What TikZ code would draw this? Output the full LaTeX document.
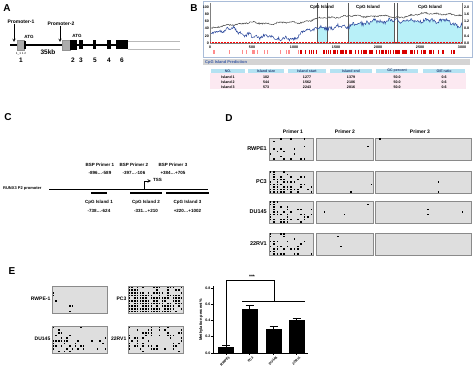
\documentclass[tikz,border=0pt]{standalone}
\usepackage{fontspec}
\setmainfont{Liberation Sans}
\usetikzlibrary{arrows}
\definecolor{headblue}{HTML}{B4E2F2}
\definecolor{rowpink}{HTML}{FCE9F1}
\definecolor{predgray}{HTML}{D4D4D4}
\definecolor{predtext}{HTML}{3B5BA5}
\definecolor{chartedge}{HTML}{A9BCD8}
\definecolor{islandfill}{HTML}{B8F0F8}
\definecolor{oeblue}{HTML}{2E4A9E}
\definecolor{gcgray}{HTML}{505050}
\definecolor{boxfill}{HTML}{DEDEDE}
\definecolor{boxedge}{HTML}{8A8A8A}
\tikzstyle{panel label}=[font=\fontsize{10}{10}\selectfont\bfseries, inner sep=0pt]
\tikzstyle{small text}=[font=\fontsize{5}{6}\selectfont\bfseries, inner sep=0pt]
\tikzstyle{tiny text}=[font=\fontsize{3.6}{4}\selectfont\bfseries, inner sep=0pt]
\tikzstyle{cell label}=[font=\fontsize{5.5}{6}\selectfont\bfseries, inner sep=0pt, anchor=east]
\tikzstyle{utr exon}=[fill=gray!65, draw=gray!85, line width=0.3pt]
\tikzstyle{gene line}=[draw, line width=1.1pt]
\tikzstyle{meth box}=[draw=boxedge, fill=boxfill, line width=0.5pt]
\tikzstyle{island bar}=[draw, line width=1.8pt]
\tikzstyle{edge}=[draw, line width=0.5pt]
% methylation grid: x, y, width, height, columns, rows, density, bias
\newcommand{\methgrid}[8]{%
  \path[meth box] (#1,#2) rectangle ++(#3,#4);
  \pgfmathsetmacro\dx{#3/#5}
  \pgfmathsetmacro\dy{#4/#6}
  \pgfmathsetmacro\ds{0.62*min(\dx,\dy)}
  \foreach \i in {1,...,#5}
    \foreach \j in {1,...,#6} {
      \pgfmathtruncatemacro\hit{100*rnd-#8*(\j/#6-0.5)+#8*(\i/#5-0.5)}
      \ifnum\hit<#7 \fill (#1+\i*\dx-0.5*\dx-0.5*\ds,#2+\j*\dy-0.5*\dy-0.5*\ds) rectangle ++(\ds,\ds); \fi
    }%
}
\begin{document}
\begin{tikzpicture}[x=1pt, y=-1pt,
  declare function={gbump(\t)=exp(-min(9,\t*\t)); lstep(\t)=1/(1+exp(-max(-9,min(9,\t))));
    gcv(\t)=40+15*(1-gbump(\t/200))+20*lstep((\t-1250)/120)+8*gbump((\t-2650)/200)-4*gbump((\t-2200)/100)+2*sin(0.9*\t)+1.5*sin(2.3*\t)+4*(rnd-0.5);
    oev(\t)=10+30*gbump((\t-220)/220)+8*gbump((\t-650)/150)+30*lstep((\t-1080)/40)+22*lstep((\t-1700)/120)-15*gbump((\t-3000)/120)+3*sin(1.7*\t)+2.5*sin(4.1*\t)+9*(rnd-0.5);}]
    \useasboundingbox[fill=white] (0,0) rectangle (474,374);
    \pgfmathsetseed{42}

    % Panel A: gene structure
    \node[panel label] (A) at (7,8) {A};
    \node[small text] (prom1) at (21,22) {Promoter-1};
    \node[small text] (prom2) at (61,24) {Promoter-2};
    \coordinate (p1tip) at (14,42);
    \coordinate (p2tip) at (60,42);
    \draw[-stealth, line width=0.5pt] (prom1.south -| p1tip) -- (p1tip);
    \draw[-stealth, line width=0.5pt] (prom2.south -| p2tip) -- (p2tip);
    \path[gene line] (10,45) -- (128,45);
    \draw[gray!55, line width=0.6pt] (128,41.5) -- (180,41.5) (128,49.5) -- (180,49.5);
    \path[utr exon] (17,40) rectangle (24,50);
    \fill (24,41) rectangle (26,49);
    \path[utr exon] (62,40) rectangle (70,50);
    \fill (70,40) rectangle (77,50);
    \foreach \xa/\xb in {79/83, 93/96, 107/111, 116/128}
        \fill (\xa,40.5) rectangle (\xb,49.5);
    \node[tiny text, font=\fontsize{4.5}{5}\selectfont\bfseries] (atg1) at (29,37) {ATG};
    \node[tiny text, font=\fontsize{4.5}{5}\selectfont\bfseries] (atg2) at (77,36) {ATG};
    \node[tiny text, font=\fontsize{3}{3}\selectfont] (sub1) at (21,53.5) {1\_1 1 2};
    \node[small text, font=\fontsize{6.5}{7}\selectfont\bfseries] (kb) at (48,52) {35kb};
    \foreach \x/\n in {21/1, 73/2, 81/3, 95/5, 109/4, 122/6}
        \node[small text, font=\fontsize{6.5}{7}\selectfont\bfseries] (ex\n) at (\x,60) {\n};

    % Panel B: CpG island plot
    \node[panel label] (B) at (194,8) {B};
    \path[draw=chartedge, line width=0.8pt] (203,1) rectangle (472,57);
    \begin{scope}
        \clip (317,3) rectangle (327,43) (348,3) rectangle (394,43) (397,3) rectangle (462,43);
        \pgfmathsetseed{11}
        \fill[islandfill] plot[domain=0:3000, samples=401] ({210+0.084*\x},{43-0.36*oev(\x)}) -- (462,43) -- (210,43) -- cycle;
    \end{scope}
    \foreach \lx in {317, 327, 348, 394, 397, 462}
        \draw[gray!70!black, line width=0.5pt] (\lx,3) -- (\lx,43);
    \draw[gcgray, line width=0.5pt] plot[domain=0:3000, samples=401] ({210+0.084*\x},{43-0.36*gcv(\x)});
    \pgfmathsetseed{11}
    \draw[oeblue, line width=0.5pt] plot[domain=0:3000, samples=401] ({210+0.084*\x},{43-0.36*oev(\x)});
    \draw[gray, line width=0.4pt] (210,3) -- (210,43) -- (462,43) -- (462,3);
    \draw[red, densely dotted, line width=0.5pt] (210,42.5) -- (462,42.5);
    \foreach \v/\r in {0/0.0, 20/0.4, 40/0.8, 60/1.2, 80/1.6, 100/2.0} {
        \node[tiny text, anchor=east] (gl\v) at (209,43-0.36*\v) {\v};
        \node[tiny text, anchor=west] (gr\v) at (464,43-0.36*\v) {\r};
    }
    \foreach \n in {0,500,...,3000}
        \node[tiny text] (gx\n) at (210+0.084*\n,47) {\n};
    \foreach \ix/\lab in {322/1, 368/2, 430/3}
        \node[tiny text, font=\fontsize{4.5}{5}\selectfont\bfseries] (isl\lab) at (\ix,7) {CpG Island};
    % CpG site marks
    \foreach \k in {1,...,18} {
        \pgfmathsetmacro\tx{212+88*rnd}
        \draw[red!45, line width=0.4pt] (\tx,50) -- (\tx,54);
    }
    \foreach \k in {1,...,95} {
        \pgfmathsetmacro\tx{300+162*rnd}
        \draw[red!85!black, line width=0.4pt] (\tx,50) -- (\tx,54);
    }
    % prediction table
    \path[fill=predgray] (203,59) rectangle (470,65);
    \node[tiny text, font=\fontsize{4}{5}\selectfont\bfseries, text=predtext, anchor=west] (pred) at (205,62) {CpG Island Prediction};
    \path[fill=rowpink] (210,73.5) rectangle (466,89);
    \foreach \cx/\w/\head in {228/34/NO., 266/36/Island size, 307/38/Island start, 351/42/Island end, 397/42/GC percent, 444/42/{O/E ratio}}
        \node[tiny text, fill=headblue, minimum width=\w pt, minimum height=4.5pt, text=predtext!70!black] (h\cx) at (\cx,71) {\head};
    \foreach \r/\y/\sz/\st/\en in {1/77/102/1277/1379, 2/82/544/1562/2106, 3/87/573/2243/2816} {
        \node[tiny text] (no\r) at (228,\y) {Island \r};
        \node[tiny text] (sz\r) at (266,\y) {\sz};
        \node[tiny text] (st\r) at (307,\y) {\st};
        \node[tiny text] (en\r) at (351,\y) {\en};
        \node[tiny text] (gc\r) at (397,\y) {50.0};
        \node[tiny text] (oe\r) at (444,\y) {0.6};
    }

    % Panel C: promoter map
    \node[panel label] (C) at (8,117) {C};
    \node[tiny text, font=\fontsize{4}{5}\selectfont\bfseries, anchor=west] (prom) at (3,189) {RUNX3 P2 promoter};
    \coordinate (lineL) at (49,189);
    \coordinate (lineR) at (208,189);
    \path[edge, line width=0.7pt] (lineL) -- (lineR);
    \coordinate (tss) at (144,189);
    \coordinate (tssend) at (151,181);
    \draw[-stealth, line width=0.6pt] (tss) |- (tssend);
    \node[tiny text, font=\fontsize{4.5}{5}\selectfont\bfseries, anchor=west] (tsslab) at (153,180) {TSS};
    \foreach \px/\n/\range in {100/1/{-896\ldots-589}, 134/2/{-397\ldots-106}, 173/3/{+384\ldots+705}} {
        \node[tiny text, font=\fontsize{4.5}{5}\selectfont\bfseries] (bsp\n) at (\px,165) {BSP Primer \n};
        \node[tiny text, font=\fontsize{4.5}{5}\selectfont\bfseries] (bspr\n) at (\px,173) {\range};
    }
    \foreach \xa/\xb/\n/\range in {91/107/1/{-738\ldots-624}, 130/162/2/{-331\ldots+210}, 166/209/3/{+220\ldots+1002}} {
        \path[island bar] (\xa,193) -- (\xb,193);
        \node[tiny text, font=\fontsize{4.5}{5}\selectfont\bfseries] (cpg\n) at ({(\xa+\xb)/2},202) {CpG Island \n};
        \node[tiny text, font=\fontsize{4.5}{5}\selectfont\bfseries] (cpgr\n) at ({(\xa+\xb)/2},211) {\range};
    }

    % Panel D: bisulfite sequencing per primer
    \node[panel label] (D) at (229,118) {D};
    \foreach \hx/\n in {293/1, 345/2, 420/3}
        \node[small text] (primer\n) at (\hx,132) {Primer \n};
    \foreach \y/\name/\da/\ba/\db/\dc in {138/RWPE1/10/8/2/1, 171/PC3/45/50/3/1, 201/DU145/30/40/1/1, 233/22RV1/25/20/1/1} {
        \node[cell label] (d\name) at (267,\y+11) {\name};
        \methgrid{269}{\y}{44}{22}{13}{9}{\da}{\ba}
        \methgrid{316}{\y}{57}{22}{17}{9}{\db}{0}
        \methgrid{375}{\y}{96}{22}{28}{9}{\dc}{0}
    }

    % Panel E: methylation status and percentage
    \node[panel label] (E) at (12,271) {E};
    \foreach \bx/\by/\name/\dens/\bias in {52/286/RWPE-1/3/0, 128/286/PC3/70/40, 52/326/DU145/25/35, 128/326/22RV1/25/0} {
        \node[cell label, font=\fontsize{5}{6}\selectfont\bfseries] (e\name) at (\bx-1.5,\by+13) {\name};
        \methgrid{\bx}{\by}{55}{27}{20}{10}{\dens}{\bias}
    }
    % bar chart
    \coordinate (origin) at (213,353);
    \coordinate (ytop) at (213,286);
    \coordinate (xend) at (308,353);
    \draw[line width=0.5pt] (ytop) -- (origin) -- (xend);
    \foreach \v/\lab in {0/0.0, 0.2/0.2, 0.4/0.4, 0.6/0.6, 0.8/0.8} {
        \draw[line width=0.5pt] (213,353-81.5*\v) -- (211,353-81.5*\v);
        \node[tiny text, anchor=east] (yt\lab) at (210.5,353-81.5*\v) {\lab};
    }
    \node[tiny text, font=\fontsize{4}{5}\selectfont\bfseries, rotate=90] (ylab) at (201,320) {Methylation percent\%};
    \foreach \xc/\val/\err/\lab in {226/0.07/0.03/RWPE1, 249.5/0.54/0.05/PC3, 273.5/0.30/0.03/DU145, 296.5/0.40/0.03/22Rv1} {
        \fill (\xc-8,353) rectangle (\xc+8,353-81.5*\val);
        \draw[line width=0.6pt] (\xc,353-81.5*\val) -- (\xc,353-81.5*\val-81.5*\err)
            (\xc-4,353-81.5*\val-81.5*\err) -- (\xc+4,353-81.5*\val-81.5*\err);
        \draw[line width=0.5pt] (\xc,353) -- (\xc,355);
        \node[tiny text, font=\fontsize{3.4}{4}\selectfont\bfseries, rotate=45, anchor=north east] (xl\lab) at (\xc+2.5,356) {\lab};
    }
    \coordinate (sigA) at (226,345);
    \coordinate (sigB) at (274,280);
    \coordinate (sigL) at (242,301);
    \coordinate (sigR) at (305,301);
    \draw[line width=0.6pt] (sigA) |- (sigB) -- (sigB |- sigL);
    \draw[line width=0.6pt] (sigL) -- (sigR);
    \node[tiny text, font=\fontsize{5}{5}\selectfont\bfseries] (stars) at (252,277) {***};
\end{tikzpicture}
\end{document}
